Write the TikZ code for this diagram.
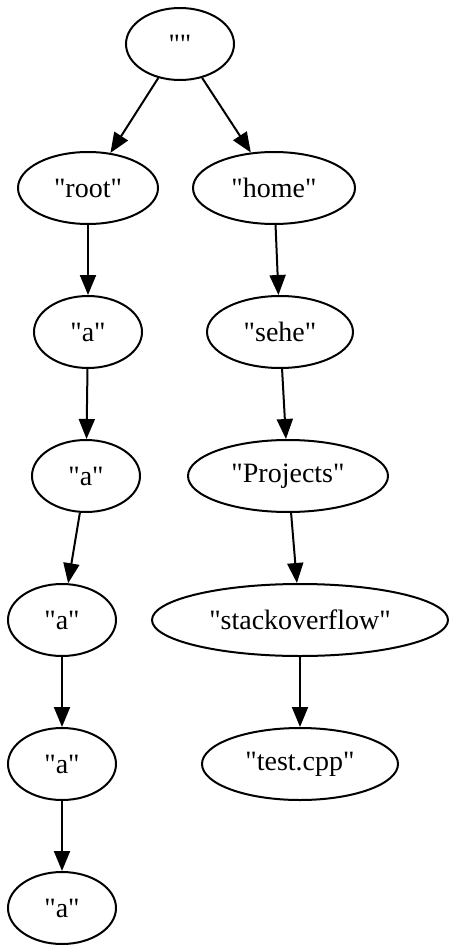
\documentclass[tikz,border=0pt]{standalone}
\usepackage{fontspec}
\newfontfamily\gvfont{Liberation Serif}
\usetikzlibrary{shapes.geometric,arrows.meta}
\begin{document}
\begin{tikzpicture}[x=1pt,y=-1pt,line width=1pt,
  dirnode/.style={ellipse, draw, inner sep=0pt, minimum height=36pt, font=\gvfont\fontsize{14}{16}\selectfont},
  edge/.style={-{Triangle[length=10pt,width=8pt]}}]
\useasboundingbox (0,0) rectangle (228,476);
\node[dirnode, minimum width=54pt] (rt) at (90,22){""};
\node[dirnode, minimum width=70pt] (root) at (44,94){"root"};
\node[dirnode, minimum width=81pt] (home) at (137,94){"home"};
\node[dirnode, minimum width=54pt] (a1) at (44,166){"a"};
\node[dirnode, minimum width=54pt] (a2) at (43,238){"a"};
\node[dirnode, minimum width=54pt] (a3) at (31,310){"a"};
\node[dirnode, minimum width=54pt] (a4) at (31,382){"a"};
\node[dirnode, minimum width=54pt] (a5) at (31,454){"a"};
\node[dirnode, minimum width=73pt] (sehe) at (140,166){"sehe"};
\node[dirnode, minimum width=100pt] (proj) at (144,238){"Projects"};
\node[dirnode, minimum width=148pt] (so) at (150,310){"stackoverflow"};
\node[dirnode, minimum width=98pt] (test) at (150,382){"test.cpp"};
\draw[edge](rt) -- (root);
\draw[edge](rt) -- (home);
\draw[edge](root) -- (a1);
\draw[edge](a1) -- (a2);
\draw[edge](a2) -- (a3);
\draw[edge](a3) -- (a4);
\draw[edge](a4) -- (a5);
\draw[edge](home) -- (sehe);
\draw[edge](sehe) -- (proj);
\draw[edge](proj) -- (so);
\draw[edge](so) -- (test);
\end{tikzpicture}
\end{document}
